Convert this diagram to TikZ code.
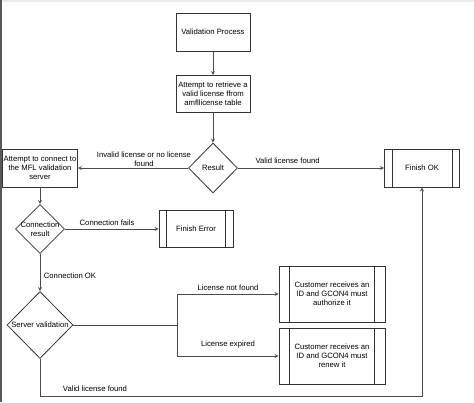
\documentclass[tikz,border=0pt]{standalone}
\usepackage{fontspec}
\setmainfont{Liberation Sans}
\usepackage{tikz}
\usetikzlibrary{shapes.geometric, arrows, calc}
\tikzstyle{block} = [rectangle, minimum width=74pt, minimum height=38pt, inner sep=1pt, align=center, draw=black!80, line width=0.8pt, fill=white]
\tikzstyle{choix} = [diamond, inner sep=0pt, draw=black!80, line width=0.8pt, fill=white]
\tikzstyle{terminus} = [block, path picture={
    \draw[black!80, line width=0.8pt] ($(path picture bounding box.south west)!0.1!(path picture bounding box.south east)$) -- ($(path picture bounding box.north west)!0.1!(path picture bounding box.north east)$);
    \draw[black!80, line width=0.8pt] ($(path picture bounding box.south east)!0.1!(path picture bounding box.south west)$) -- ($(path picture bounding box.north east)!0.1!(path picture bounding box.north west)$);}]
\tikzstyle{arrow} = [black!70, line width=0.8pt, ->, >=stealth]
\tikzstyle{lbl} = [black, inner sep=1.5pt, align=center]

\begin{document}
\begin{tikzpicture}[node distance=62pt, font=\fontsize{7.7}{8.8}\selectfont]
        \useasboundingbox (0,0) rectangle (474pt,-402pt);
        \fill[black!8] (0,0) rectangle (474pt,-2pt);
        \fill[black!65] (0,0) rectangle (2pt,-402pt);

        \node (val) [block] at (213pt,-32pt) {Validation Process};
        \node (retr) [block, below of=val, minimum height=37pt] {Attempt to retrieve a\\valid license ffrom\\amfllicense table};
        \node (res) [choix, below of=retr, yshift=-12pt, minimum width=49pt, minimum height=50pt] {};
        \node (resT) at (res) {Result};
        \node (conn) [block, left of=res, xshift=-111pt] {Attempt to connect to\\the MFL validation\\server};
        \node (ok) [terminus, right of=res, xshift=+147pt, minimum width=75pt] {Finish OK};
        \node (cres) [choix, below of=conn, yshift=+1pt, minimum width=49pt, minimum height=49pt] {};
        \node (cresT) at (cres) [align=center] {Connection\\result};
        \node (err) [terminus, right of=cres, xshift=+94pt, minimum height=37pt] {Finish Error};
        \node (srv) [choix, below of=cres, yshift=-34pt, minimum width=66pt, minimum height=67pt] {};
        \node (srvT) at (srv) {Server validation};
        \node (cust1) [terminus, right of=srv, xshift=+230pt, yshift=+31pt, minimum width=106pt, minimum height=56pt] {Customer receives an\\ID and GCON4 must\\authorize it};
        \node (cust2) [terminus, below of=cust1, minimum width=106pt, minimum height=56pt] {Customer receives an\\ID and GCON4 must\\renew it};
        \coordinate (split) at ([xshift=104pt]srv.east);
        \coordinate (bot) at ([yshift=-37pt]srv.south);

        \draw [arrow] (val) -- (retr);
        \draw [arrow] (retr) -- (res);
        \draw [arrow] (res) -- node[lbl, pos=0.4, anchor=south] {Invalid license or no license\\found} (conn);
        \draw [arrow] (res) -- node[lbl, pos=0.34, anchor=south, yshift=3pt] {Valid license found} (ok);
        \draw [arrow] (conn) -- (cres);
        \draw [arrow] (cres) -- node[lbl, pos=0.45, anchor=south, yshift=2pt] {Connection fails} (err);
        \draw [arrow] (cres) -- node[lbl, anchor=west, xshift=2pt, yshift=-3pt] {Connection OK} (srv);
        \draw [black!70, line width=0.8pt] (srv.east) -- (split);
        \draw [arrow] (split) |- node[lbl, pos=0.75, anchor=south, yshift=2pt] {License not found} (cust1.west);
        \draw [arrow] (split) |- node[lbl, pos=0.75, anchor=south, yshift=6pt] {License expired} (cust2.west);
        \draw [arrow] (srv.south) -- (bot) -| node[lbl, pos=0.072, anchor=south, yshift=2pt] {Valid license found} (ok.south);
    \end{tikzpicture}
\end{document}
